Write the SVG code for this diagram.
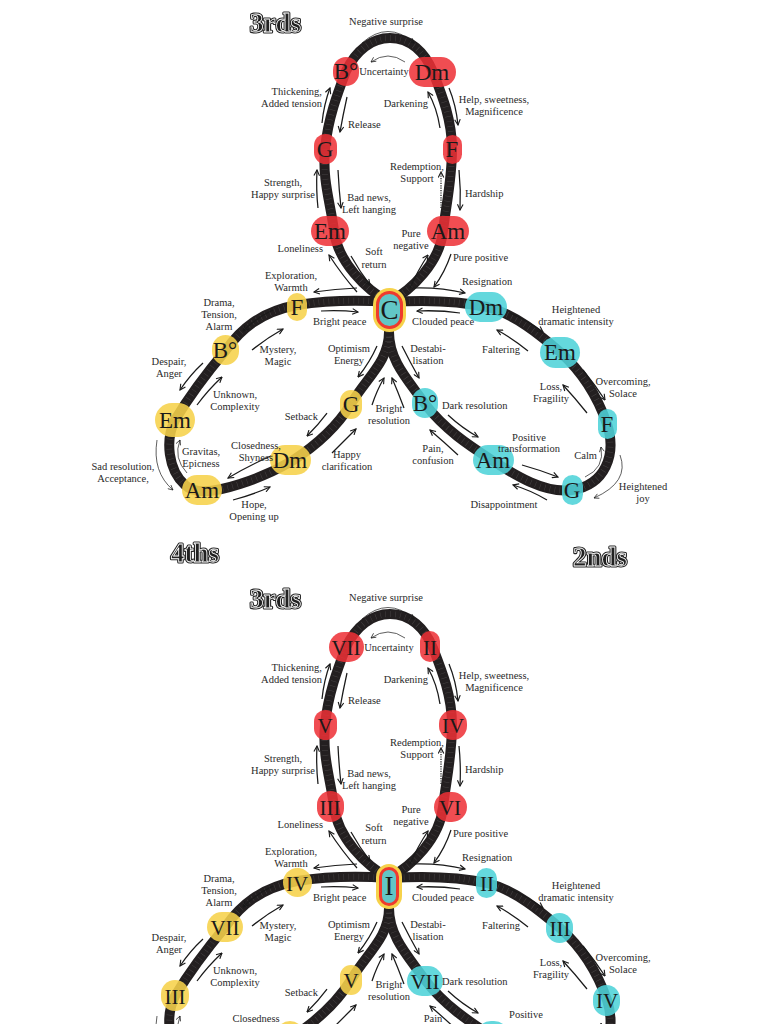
<svg xmlns="http://www.w3.org/2000/svg" width="768" height="1024" viewBox="0 0 768 1024">
<style>
.trk{fill:none;stroke:#231f20;stroke-width:10;stroke-linecap:round;stroke-linejoin:round}
.tick{fill:none;stroke:#fff;stroke-width:6;stroke-dasharray:0.5 4.5;opacity:.16}
.ar{fill:none;stroke:#1a1a1a;stroke-width:1.25;marker-end:url(#ah)}
.th{fill:none;stroke:#1a1a1a;stroke-width:.7;marker-end:url(#ahs)}
.dt{stroke-dasharray:1.2 1.2}
.lb{font-family:"Liberation Serif","DejaVu Serif",serif;font-size:10.5px;fill:#2a2a2a}
.m{text-anchor:middle}.e{text-anchor:end}
.nt{font-family:"Liberation Serif","DejaVu Serif",serif;font-size:23px;fill:#1a1a1a;text-anchor:middle}
.nr{font-size:21px}
.r{fill:#ee3035;opacity:.86}
.y{fill:#f6d24a;opacity:.88}
.c{fill:#4fd3d8;opacity:.88}
.ttl{font-family:"Liberation Serif",serif;font-weight:bold;font-size:27px;filter:url(#gray)}
.ttlb{fill:#222;stroke:#222;stroke-width:3;stroke-linejoin:round}
.ttlw{fill:none;stroke:#fff;stroke-width:.8}
</style>
<defs>
<filter id="gray" x="-10%" y="-20%" width="120%" height="140%"><feColorMatrix type="saturate" values="0"/></filter>
<marker id="ah" viewBox="0 0 10 10" refX="9" refY="5" markerWidth="7" markerHeight="7" markerUnits="userSpaceOnUse" orient="auto"><path d="M1,1 L9,5 L1,9" fill="none" stroke="#1a1a1a" stroke-width="1.6"/></marker>
<marker id="ahs" viewBox="0 0 10 10" refX="9" refY="5" markerWidth="6" markerHeight="6" markerUnits="userSpaceOnUse" orient="auto"><path d="M1,1 L9,5 L1,9" fill="none" stroke="#1a1a1a" stroke-width="1.2"/></marker>
<g id="track">
<path d="M389,302 C366,290 338,262 334,231 C331,205 322,180 325,149 C328,118 338,92 346,71 C356,50 372,38 390,38 C410,38 425,52 433,72 C442,95 452,120 452,149 C452,180 446,205 443,231 C440,262 412,290 389,302"/>
<path d="M389,302 C360,300 330,300 297,305 C260,312 240,330 226,350 C205,375 190,395 175,420 C165,440 168,470 185,485 C195,495 215,492 240,484 C265,476 280,468 292,461 C320,443 338,425 351,404 C366,378 389,362 389,332"/>
<path d="M389,302 C420,300 455,300 487,307 C515,314 540,335 560,352 C580,370 597,395 607,424 C617,455 605,485 572,490 C545,494 515,475 493,461 C470,446 445,430 425,404 C410,382 389,362 389,332"/>
</g>
<g id="arrowset">
<path class="th" d="M362,43 Q388,20 414,43"/>
<path class="th" d="M405,62 Q388,50 371,62"/>
<path class="ar" d="M322,123 Q324,104 330,88"/>
<path class="ar" d="M347,97 Q343,115 340,132"/>
<path class="ar" d="M440,128 Q437,108 428,92"/>
<path class="ar" d="M449,88 Q456,105 458,125"/>
<path class="ar" d="M318,208 Q316,190 317,170"/>
<path class="ar" d="M338,170 Q339,190 341,208"/>
<path class="ar dt" d="M441,208 L441,172"/>
<path class="ar" d="M459,170 Q461,190 460,210"/>
<path class="ar" d="M357,292 Q342,275 329,255"/>
<path class="ar" d="M351,256 Q360,272 370,285"/>
<path class="ar" d="M410,288 Q418,270 428,255"/>
<path class="ar" d="M451,254 Q445,272 434,287"/>
<path class="ar" d="M357,288 Q335,289 314,292"/>
<path class="ar" d="M321,311 Q340,310 358,312"/>
<path class="ar" d="M273,310 Q256,318 243,331"/>
<path class="ar" d="M252,350 Q267,338 283,329"/>
<path class="ar" d="M203,363 Q190,375 180,390"/>
<path class="ar" d="M197,405 Q208,390 222,377"/>
<path class="th" d="M157,440 Q152,472 173,490"/>
<path class="th" d="M187,473 Q173,458 180,440"/>
<path class="ar" d="M273,455 Q250,465 228,478"/>
<path class="ar" d="M233,500 Q252,495 270,487"/>
<path class="ar" d="M327,413 Q318,425 307,436"/>
<path class="ar" d="M332,453 Q345,440 356,429"/>
<path class="ar" d="M377,346 Q370,362 358,377"/>
<path class="ar" d="M372,405 Q377,390 384,378"/>
<path class="ar" d="M404,408 Q398,392 392,378"/>
<path class="ar" d="M402,346 Q410,362 419,378"/>
<path class="ar" d="M412,288 Q440,287 465,293"/>
<path class="ar" d="M460,313 Q440,310 417,311"/>
<path class="ar" d="M510,313 Q528,321 543,332"/>
<path class="ar" d="M528,351 Q512,338 497,330"/>
<path class="ar" d="M583,370 Q595,385 605,400"/>
<path class="ar" d="M587,413 Q575,398 563,385"/>
<path class="th" d="M620,455 Q630,482 594,498"/>
<path class="th" d="M585,477 Q605,468 601,447"/>
<path class="ar" d="M522,465 Q540,470 558,477"/>
<path class="ar" d="M547,500 Q530,490 513,485"/>
<path class="ar" d="M448,415 Q462,428 478,437"/>
<path class="ar" d="M458,455 Q444,442 430,430"/>
</g>
</defs>

<g id="tracks">
<use href="#track" class="trk"/>
<use href="#track" class="tick"/>
<use href="#track" class="trk" transform="translate(0,576)"/>
<use href="#track" class="tick" transform="translate(0,576)"/>
</g>

<g id="connectors">
<use href="#arrowset"/>
<use href="#arrowset" transform="translate(0,576)"/>
</g>

<g id="titles">
<g class="ttl"><text class="ttlb" x="250" y="32">3rds</text><text class="ttlw" x="250" y="32">3rds</text></g>
<g class="ttl"><text class="ttlb" x="171" y="562">4ths</text><text class="ttlw" x="171" y="562">4ths</text></g>
<g class="ttl"><text class="ttlb" x="573" y="566">2nds</text><text class="ttlw" x="573" y="566">2nds</text></g>
<g class="ttl"><text class="ttlb" x="250" y="608">3rds</text><text class="ttlw" x="250" y="608">3rds</text></g>
</g>

<!-- top diagram nodes -->
<g id="n-top-Bdim"><rect class="r" x="333" y="57" width="26" height="29" rx="13"/><text class="nt" x="346" y="79">B°</text></g>
<g id="n-top-Dm"><rect class="r" x="409" y="57" width="47" height="30" rx="15"/><text class="nt" x="432" y="80">Dm</text></g>
<g id="n-top-G"><rect class="r" x="314" y="134" width="23" height="30" rx="11.5"/><text class="nt" x="325" y="157">G</text></g>
<g id="n-top-F"><rect class="r" x="443" y="135" width="19" height="29" rx="9.5"/><text class="nt" x="452" y="157">F</text></g>
<g id="n-top-Em"><rect class="r" x="311" y="216" width="38" height="30" rx="15"/><text class="nt" x="330" y="239">Em</text></g>
<g id="n-top-Am"><rect class="r" x="427" y="216" width="42" height="30" rx="15"/><text class="nt" x="448" y="239">Am</text></g>

<g id="n-left-F"><rect class="y" x="287" y="293" width="20" height="28" rx="10"/><text class="nt" x="297" y="315">F</text></g>
<g id="n-left-Bdim"><rect class="y" x="212" y="335" width="27" height="30" rx="13.5"/><text class="nt" x="225" y="358">B°</text></g>
<g id="n-left-Em"><rect class="y" x="155" y="403" width="40" height="34" rx="17"/><text class="nt" x="175" y="428">Em</text></g>
<g id="n-left-Am"><rect class="y" x="182" y="475" width="40" height="30" rx="15"/><text class="nt" x="202" y="498">Am</text></g>
<g id="n-left-Dm"><rect class="y" x="270" y="445" width="41" height="30" rx="15"/><text class="nt" x="290" y="468">Dm</text></g>
<g id="n-left-G"><rect class="y" x="340" y="390" width="22" height="29" rx="11"/><text class="nt" x="351" y="412">G</text></g>

<g id="n-right-Dm"><rect class="c" x="465" y="292" width="42" height="30" rx="15"/><text class="nt" x="486" y="315">Dm</text></g>
<g id="n-right-Em"><rect class="c" x="540" y="337" width="40" height="31" rx="15.5"/><text class="nt" x="560" y="360">Em</text></g>
<g id="n-right-F"><rect class="c" x="598" y="409" width="19" height="30" rx="9.5"/><text class="nt" x="607" y="432">F</text></g>
<g id="n-right-G"><rect class="c" x="562" y="475" width="21" height="30" rx="10.5"/><text class="nt" x="572" y="498">G</text></g>
<g id="n-right-Am"><rect class="c" x="473" y="445" width="41" height="30" rx="15"/><text class="nt" x="493" y="468">Am</text></g>
<g id="n-right-Bdim"><rect class="c" x="412" y="388" width="26" height="30" rx="13"/><text class="nt" x="425" y="411">B°</text></g>

<g id="n-C"><rect x="373" y="288" width="33" height="44" rx="16.5" fill="#f6d24a"/><rect x="376" y="291" width="27" height="38" rx="13.5" fill="#ee3a2e"/><rect x="379" y="294" width="21" height="32" rx="10.5" fill="#62c6c6"/><text class="nt" x="389.5" y="319" style="font-size:27px">C</text></g>

<!-- bottom diagram nodes -->
<g id="n2-top-VII"><rect class="r" x="329" y="632" width="35" height="30" rx="15"/><text class="nt nr" x="346" y="655">VII</text></g>
<g id="n2-top-II"><rect class="r" x="420" y="631" width="20" height="31" rx="10"/><text class="nt nr" x="430" y="655">II</text></g>
<g id="n2-top-V"><rect class="r" x="314" y="710" width="23" height="30" rx="11.5"/><text class="nt nr" x="325" y="733">V</text></g>
<g id="n2-top-IV"><rect class="r" x="439" y="710" width="28" height="30" rx="14"/><text class="nt nr" x="453" y="733">IV</text></g>
<g id="n2-top-III"><rect class="r" x="317" y="791" width="27" height="31" rx="13.5"/><text class="nt nr" x="330" y="815">III</text></g>
<g id="n2-top-VI"><rect class="r" x="434" y="792" width="33" height="30" rx="15"/><text class="nt nr" x="450" y="815">VI</text></g>

<g id="n2-left-IV"><rect class="y" x="283" y="868" width="29" height="29" rx="14.5"/><text class="nt nr" x="297" y="891">IV</text></g>
<g id="n2-left-VII"><rect class="y" x="207" y="912" width="36" height="30" rx="15"/><text class="nt nr" x="225" y="935">VII</text></g>
<g id="n2-left-III"><rect class="y" x="161" y="980" width="28" height="31" rx="14"/><text class="nt nr" x="175" y="1004">III</text></g>
<g id="n2-left-V"><rect class="y" x="340" y="965" width="22" height="30" rx="11"/><text class="nt nr" x="351" y="988">V</text></g>
<g id="n2-left-II"><rect class="y" x="276" y="1021" width="28" height="30" rx="14"/></g>

<g id="n2-right-II"><rect class="c" x="476" y="868" width="21" height="30" rx="10.5"/><text class="nt nr" x="487" y="891">II</text></g>
<g id="n2-right-III"><rect class="c" x="546" y="913" width="27" height="30" rx="13.5"/><text class="nt nr" x="560" y="936">III</text></g>
<g id="n2-right-IV"><rect class="c" x="593" y="985" width="27" height="31" rx="13.5"/><text class="nt nr" x="607" y="1008">IV</text></g>
<g id="n2-right-VII"><rect class="c" x="407" y="966" width="36" height="30" rx="15"/><text class="nt nr" x="425" y="989">VII</text></g>
<g id="n2-right-VI"><rect class="c" x="476" y="1021" width="33" height="30" rx="15"/></g>

<g id="n2-I"><rect x="376" y="864" width="26" height="45" rx="13" fill="#f6d24a"/><rect x="379" y="867" width="20" height="39" rx="10" fill="#ee3a2e"/><rect x="382" y="870" width="14" height="33" rx="7" fill="#62c6c6"/><text class="nt" x="389" y="895" style="font-size:27px">I</text></g>

<g id="labels-top" class="lb">
<text class="m" x="386" y="25">Negative surprise</text>
<text class="m" x="384" y="75">Uncertainty</text>
<text class="e" x="322" y="95">Thickening,<tspan x="322" dy="12">Added tension</tspan></text>
<text x="348" y="128">Release</text>
<text class="e" x="428" y="107">Darkening</text>
<text class="m" x="494" y="103">Help, sweetness,<tspan x="494" dy="12">Magnificence</tspan></text>
<text class="m" x="283" y="186">Strength,<tspan x="283" dy="11.5">Happy surprise</tspan></text>
<text class="m" x="369" y="201">Bad news,<tspan x="369" dy="12">Left hanging</tspan></text>
<text class="m" x="417" y="170">Redemption,<tspan x="417" dy="11.5">Support</tspan></text>
<text x="465" y="197">Hardship</text>
<text class="e" x="323" y="252">Loneliness</text>
<text class="m" x="374" y="255">Soft<tspan x="374" dy="12.5">return</tspan></text>
<text class="m" x="411" y="237">Pure<tspan x="411" dy="12">negative</tspan></text>
<text x="453" y="261">Pure positive</text>
<text class="m" x="291" y="279">Exploration,<tspan x="291" dy="12">Warmth</tspan></text>
<text x="313" y="325">Bright peace</text>
<text class="m" x="219" y="306">Drama,<tspan x="219" dy="12">Tension,</tspan><tspan x="219" dy="12">Alarm</tspan></text>
<text class="m" x="278" y="353">Mystery,<tspan x="278" dy="12">Magic</tspan></text>
<text class="m" x="169" y="365">Despair,<tspan x="169" dy="12">Anger</tspan></text>
<text class="m" x="235" y="398">Unknown,<tspan x="235" dy="12">Complexity</tspan></text>
<text class="m" x="123" y="470">Sad resolution,<tspan x="123" dy="12">Acceptance,</tspan></text>
<text class="m" x="201" y="455">Gravitas,<tspan x="201" dy="12">Epicness</tspan></text>
<text class="m" x="256" y="449">Closedness,<tspan x="256" dy="12">Shyness</tspan></text>
<text class="m" x="254" y="508">Hope,<tspan x="254" dy="12">Opening up</tspan></text>
<text class="e" x="318" y="420">Setback</text>
<text class="m" x="347" y="458">Happy<tspan x="347" dy="12">clarification</tspan></text>
<text class="m" x="349" y="352">Optimism<tspan x="349" dy="12">Energy</tspan></text>
<text class="m" x="389" y="412">Bright<tspan x="389" dy="12">resolution</tspan></text>
<text class="m" x="428" y="352">Destabi-<tspan x="428" dy="12">lisation</tspan></text>
<text x="462" y="285">Resignation</text>
<text x="412" y="325">Clouded peace</text>
<text class="m" x="576" y="313">Heightened<tspan x="576" dy="12">dramatic intensity</tspan></text>
<text class="e" x="520" y="353">Faltering</text>
<text class="m" x="623" y="385">Overcoming,<tspan x="623" dy="12">Solace</tspan></text>
<text class="m" x="551" y="390">Loss,<tspan x="551" dy="12">Fragility</tspan></text>
<text class="m" x="643" y="490">Heightened<tspan x="643" dy="12">joy</tspan></text>
<text class="e" x="597" y="459">Calm</text>
<text class="m" x="529" y="441">Positive<tspan x="529" dy="11">transformation</tspan></text>
<text class="m" x="504" y="508">Disappointment</text>
<text x="442" y="409">Dark resolution</text>
<text class="m" x="433" y="452">Pain,<tspan x="433" dy="11.5">confusion</tspan></text>
</g>

<g id="labels-bottom" class="lb" transform="translate(0,576)">
<text class="m" x="386" y="25">Negative surprise</text>
<text class="m" x="389" y="75">Uncertainty</text>
<text class="e" x="322" y="95">Thickening,<tspan x="322" dy="12">Added tension</tspan></text>
<text x="348" y="128">Release</text>
<text class="e" x="428" y="107">Darkening</text>
<text class="m" x="494" y="103">Help, sweetness,<tspan x="494" dy="12">Magnificence</tspan></text>
<text class="m" x="283" y="186">Strength,<tspan x="283" dy="11.5">Happy surprise</tspan></text>
<text class="m" x="369" y="201">Bad news,<tspan x="369" dy="12">Left hanging</tspan></text>
<text class="m" x="417" y="170">Redemption,<tspan x="417" dy="11.5">Support</tspan></text>
<text x="465" y="197">Hardship</text>
<text class="e" x="323" y="252">Loneliness</text>
<text class="m" x="374" y="255">Soft<tspan x="374" dy="12.5">return</tspan></text>
<text class="m" x="411" y="237">Pure<tspan x="411" dy="12">negative</tspan></text>
<text x="453" y="261">Pure positive</text>
<text class="m" x="291" y="279">Exploration,<tspan x="291" dy="12">Warmth</tspan></text>
<text x="313" y="325">Bright peace</text>
<text class="m" x="219" y="306">Drama,<tspan x="219" dy="12">Tension,</tspan><tspan x="219" dy="12">Alarm</tspan></text>
<text class="m" x="278" y="353">Mystery,<tspan x="278" dy="12">Magic</tspan></text>
<text class="m" x="169" y="365">Despair,<tspan x="169" dy="12">Anger</tspan></text>
<text class="m" x="235" y="398">Unknown,<tspan x="235" dy="12">Complexity</tspan></text>
<text class="m" x="256" y="446">Closedness</text>
<text class="e" x="318" y="420">Setback</text>
<text class="m" x="349" y="352">Optimism<tspan x="349" dy="12">Energy</tspan></text>
<text class="m" x="389" y="412">Bright<tspan x="389" dy="12">resolution</tspan></text>
<text class="m" x="428" y="352">Destabi-<tspan x="428" dy="12">lisation</tspan></text>
<text x="462" y="285">Resignation</text>
<text x="412" y="325">Clouded peace</text>
<text class="m" x="576" y="313">Heightened<tspan x="576" dy="12">dramatic intensity</tspan></text>
<text class="e" x="520" y="353">Faltering</text>
<text class="m" x="623" y="385">Overcoming,<tspan x="623" dy="12">Solace</tspan></text>
<text class="m" x="551" y="390">Loss,<tspan x="551" dy="12">Fragility</tspan></text>
<text class="m" x="526" y="442">Positive</text>
<text x="442" y="409">Dark resolution</text>
<text class="m" x="433" y="446">Pain</text>
</g>
</svg>
